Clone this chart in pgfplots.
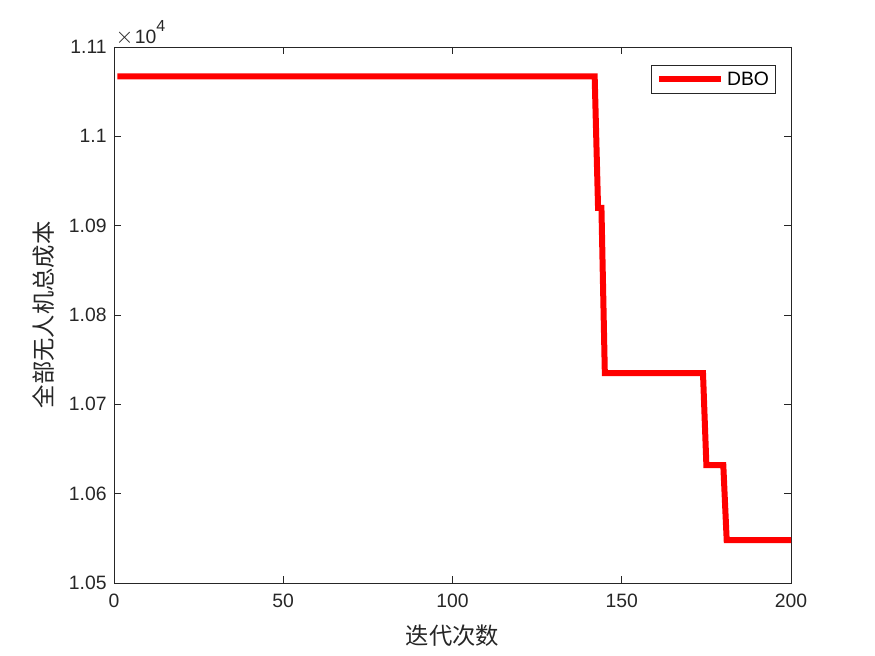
\documentclass[border=0pt]{standalone}
\usepackage{fontspec}
\setmainfont{Liberation Sans}
\newfontfamily\cjk{Noto Sans CJK SC}
\usepackage{pgfplots}
\pgfplotsset{compat=1.18}
\definecolor{axgray}{gray}{0.15}
\begin{document}
\begin{tikzpicture}
\path (0pt,0pt) rectangle (656.25pt,492pt);
\begin{axis}[
  name=ax,
  at={(85.5pt,54.75pt)}, anchor=south west,
  scale only axis, width=507.75pt, height=402pt,
  xmin=0, xmax=200, ymin=10500, ymax=11100,
  xtick={0,50,100,150,200},
  ytick={10500,10600,10700,10800,10900,11000,11100},
  yticklabels={1.05,1.06,1.07,1.08,1.09,1.1,1.11},
  scaled y ticks=false,
  /pgf/number format/assume math mode=true,
  tick align=inside, major tick length=5pt,
  axis line style={axgray, line width=0.6pt},
  tick style={axgray, line width=0.6pt},
  ticklabel style={font=\fontsize{14.5}{16}\selectfont, text=axgray},
  yticklabel style={xshift=-2pt},
  xticklabel style={yshift=-5pt},
  xlabel={\cjk 迭代次数}, ylabel={\cjk 全部无人机总成本},
  label style={font=\fontsize{17.5}{19}\selectfont, text=axgray},
  xlabel style={at={(axis description cs:0.5,-0.0989)}, anchor=center},
  ylabel style={at={(axis description cs:-0.1034,0.5)}, anchor=center},
  legend style={at={(axis description cs:0.978,0.966)}, anchor=north east,
    draw=axgray, line width=0.6pt, font=\fontsize{14.5}{16}\selectfont,
    inner xsep=3pt, inner ysep=2.5pt},
  legend image code/.code={\draw[#1, line width=4.5pt] (0pt,0pt) -- (47pt,0pt);},
]
\addplot[red, line width=4.5pt, line join=miter] coordinates {
(1,11067)(142,11067)(143,10920)(144,10920)(145,10735)(174,10735)(175,10632)(180,10632)(181,10548)(200,10548)
};
\addlegendentry{DBO}
\end{axis}
\node[anchor=base west, font=\fontsize{14.5}{16}\selectfont, text=axgray, inner sep=0pt] at ([xshift=1pt,yshift=2.5pt]ax.north west) {{\fontsize{17}{18}\selectfont$\times$}\kern1pt10\raisebox{0.62em}{\fontsize{12}{13}\selectfont 4}};
\end{tikzpicture}
\end{document}
